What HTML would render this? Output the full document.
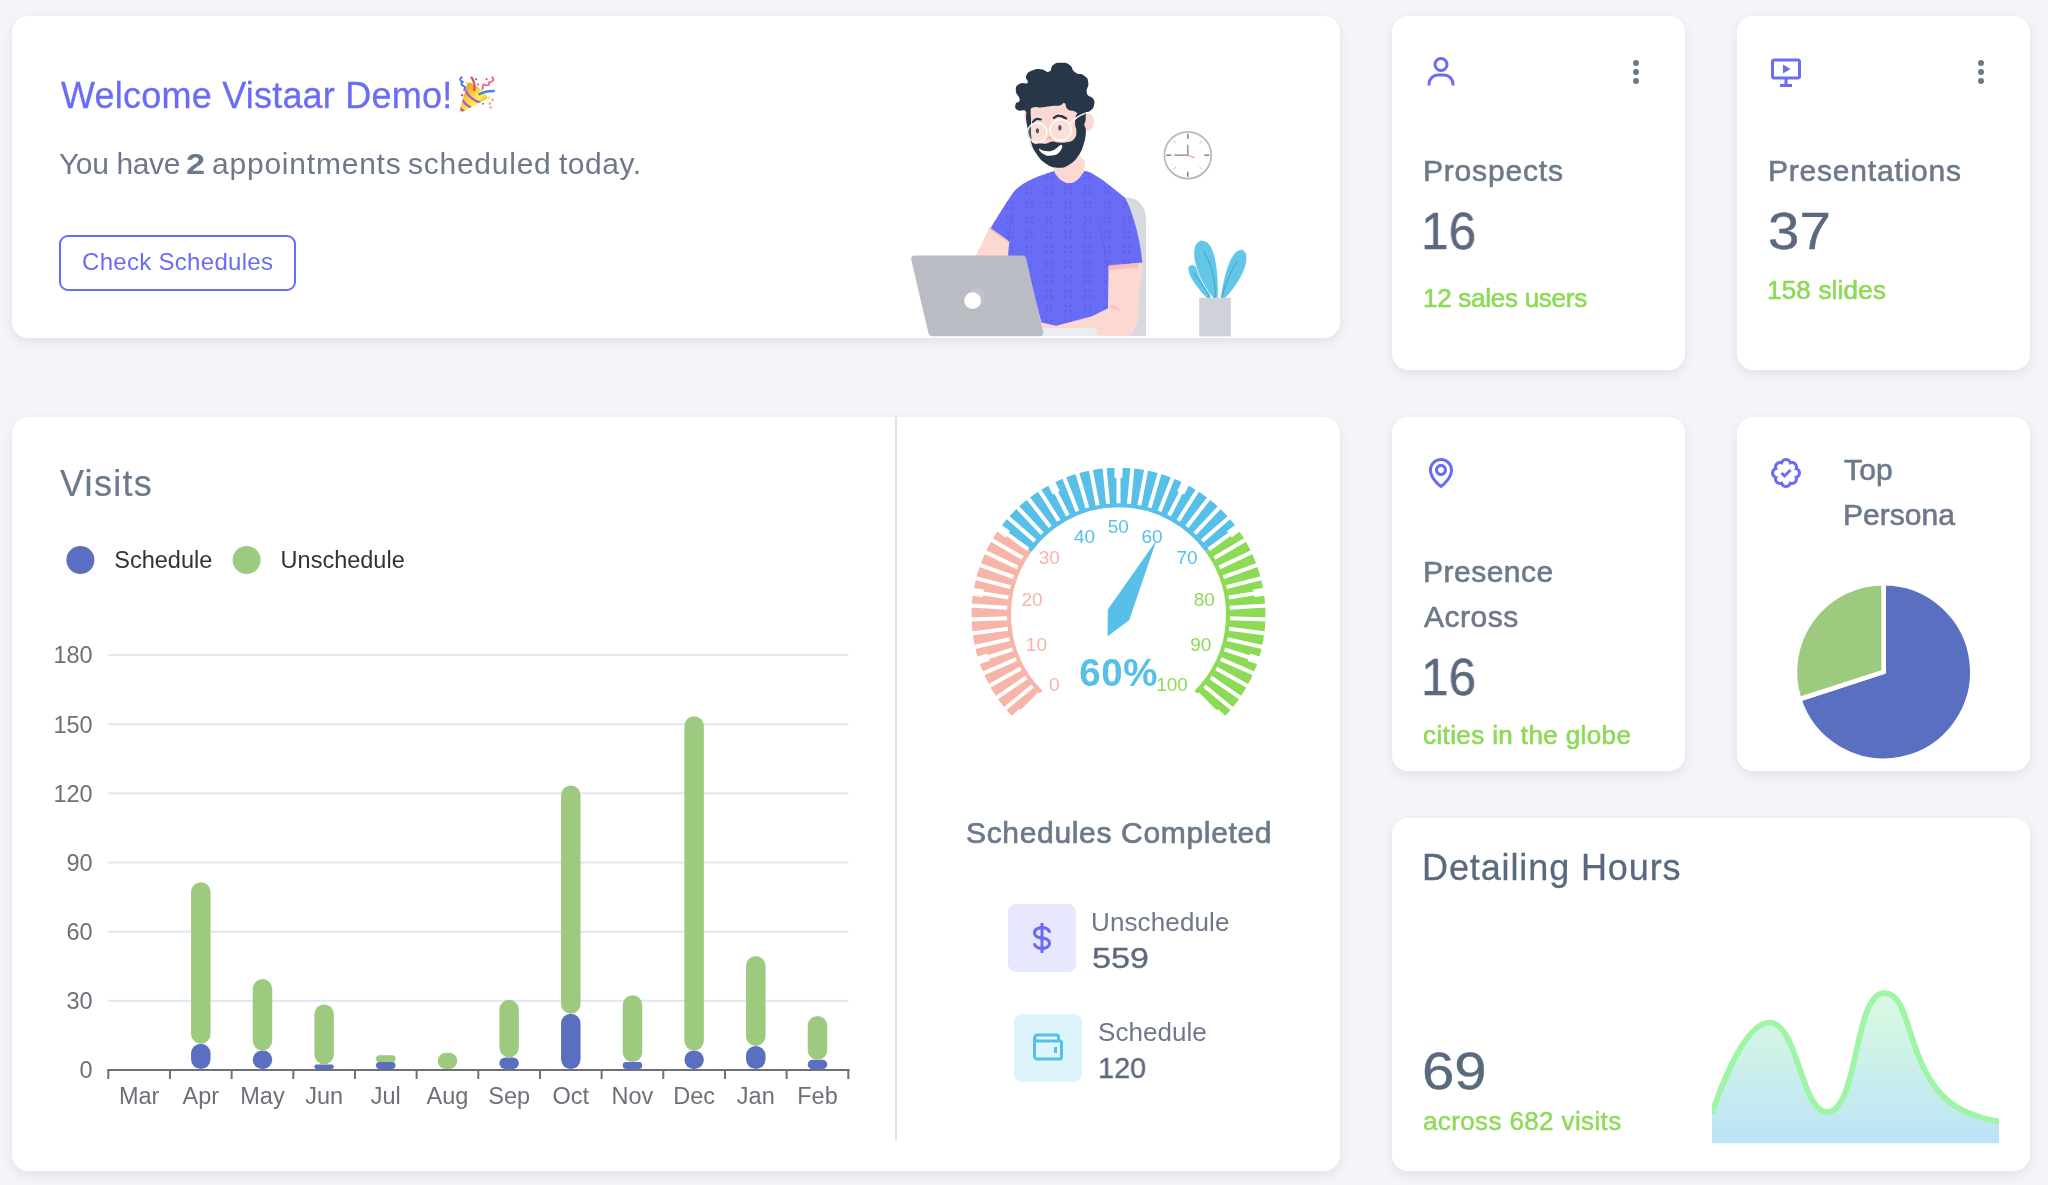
<!DOCTYPE html>
<html lang="en"><head><meta charset="utf-8"><title>Dashboard</title>
<style>
*{box-sizing:border-box}
html,body{margin:0;padding:0}
body{width:2048px;height:1185px;overflow:hidden;background:#f5f5f9;font-family:"Liberation Sans", sans-serif;position:relative}
.card{position:absolute;background:#fff;border-radius:16px;box-shadow:0 4px 12px 0 rgba(67,89,113,.12)}
.tx{will-change:transform;position:absolute;line-height:1;white-space:nowrap;margin:0;-webkit-font-smoothing:antialiased}
.tx b{font-weight:700}
.ab{will-change:transform;position:absolute;display:block;overflow:visible}
.btn{position:absolute;left:59px;top:235px;width:237px;height:55.5px;border:2px solid #6a6cf6;border-radius:9px;background:#fff}
.divider{position:absolute;left:895.25px;top:417px;width:2px;height:722.8px;background:#dee1e6}
.av{position:absolute;width:67.6px;height:67.6px;border-radius:8px}
</style></head>
<body>
<div class="card" style="left:12px;top:16px;width:1328px;height:322px"></div>
<div class="card" style="left:1392px;top:16px;width:293px;height:353.5px"></div>
<div class="card" style="left:1737px;top:16px;width:293px;height:353.5px"></div>
<div class="card" style="left:12px;top:417px;width:1328px;height:753.5px"></div>
<div class="card" style="left:1392px;top:417px;width:293px;height:353.5px"></div>
<div class="card" style="left:1737px;top:417px;width:293px;height:353.5px"></div>
<div class="card" style="left:1392px;top:818px;width:638px;height:352.5px"></div>
<div class="btn"></div>
<div class="divider"></div>
<div class="av" style="left:1008.3px;top:904.1px;background:#e7e7fd"></div>
<div class="av" style="left:1014.3px;top:1014.3px;background:#ddf4fb"></div>
<!--ILLUS-->
<svg class="ab" style="left:900px;top:40px;overflow:hidden" width="420" height="296.500" viewBox="900 40 420 296.500"><defs><pattern id="xp" width="19.5" height="14.8" patternUnits="userSpaceOnUse" x="1000" y="168">
<g stroke="#5658dc" stroke-width="1.3" stroke-linecap="round" opacity=".8"><path d="M6.300 3.900l2 2M13.200 3.900l-2 2M6.300 10.900l2-2M13.200 10.900l-2-2"/></g></pattern>
<clipPath id="shirtclip"><path d="M1053.8 171.2C1041.3 174.8 1024.9 180.6 1014.8 190.4Q1007.7 199.8 990.6 227.9L1009.3 241.2L1007.7 259.9L1024.9 259.9L1041.3 322.4L1056.2 325.8L1092.1 316.2L1108.0 308.3L1108.5 266.2L1142.3 262.4C1141.7 250.6 1136.1 218.6 1124.9 197.5L1103.0 180.3Q1089.3 170.6 1084.3 170.9Z"/></clipPath></defs>
<path d="M1112 336V197.5h14c12 0 20 9 20 22V336z" fill="#d6d9de"/>
<path d="M989.8 227.1L1010.1 240.4L1008.5 257.6L975.0 257.6Z" fill="#fbd8d1"/>
<path d="M990.3 228.1L1009.3 240.9L1009.0 243.1L989.3 229.6Z" fill="#f6b9ae" opacity=".8"/>
<path d="M1103.0 264.6C1109.2 258.4 1134.4 258.4 1140.5 263.1C1146.5 267.7 1139.6 283.9 1139.2 292.7C1138.9 301.6 1139.5 309.5 1138.4 316.2C1137.4 322.8 1134.9 329.3 1132.7 332.5C1130.4 335.8 1131.1 335.3 1124.9 335.8C1118.6 336.4 1109.1 336.2 1095.2 335.8C1081.3 335.4 1050.4 335.6 1041.3 333.3C1032.2 331.1 1038.1 324.2 1040.5 322.4C1043.0 320.6 1047.6 324.5 1056.2 322.4C1064.7 320.3 1084.3 313.5 1092.1 309.9C1099.9 306.3 1101.2 308.1 1103.0 300.5C1104.8 293.0 1096.8 270.9 1103.0 264.6Z" fill="#fbd8d1"/>
<path d="M1054.5 158.0L1080.2 155.3L1083.6 171.5L1085.6 185.0L1053.2 185.0Z" fill="#fbd8d1"/>
<path d="M1054.5 166.1L1080.2 158.0L1082.2 166.1L1062.6 169.5Z" fill="#f6b9ae" opacity=".55"/>
<path d="M1053.8 171.2C1041.3 174.8 1024.9 180.6 1014.8 190.4Q1007.7 199.8 990.6 227.9L1009.3 241.2L1007.7 259.9L1024.9 259.9L1041.3 322.4L1056.2 325.8L1092.1 316.2L1108.0 308.3L1108.5 266.2L1142.3 262.4C1141.7 250.6 1136.1 218.6 1124.9 197.5L1103.0 180.3Q1089.3 170.6 1084.3 170.9Z" fill="#696cf6"/>
<rect x="980" y="165" width="170" height="175" fill="url(#xp)" clip-path="url(#shirtclip)"/>
<path d="M1108.5 264.9L1138.1 263.1L1138.4 267.7L1108.9 270.1Z" fill="#f6b9ae" opacity=".8"/>
<path d="M1110.8 304.4L1120.2 309.1L1118.6 310.7L1110.8 307.6Z" fill="#f6b9ae" opacity=".7"/>
<path d="M1011.2 213.9L1008.5 241.2" stroke="#5658dc" stroke-width="1" fill="none" opacity=".7"/>
<path d="M1098.6 222.5L1107.7 266.2" stroke="#5658dc" stroke-width="1" fill="none" opacity=".6"/>
<path d="M1054.3 170.2C1055.2 174.5 1055.3 173.9 1057.9 176.9C1060.5 180.0 1060.7 180.0 1064.0 181.7C1067.2 183.3 1066.8 183.3 1070.1 183.0C1073.3 182.8 1073.1 182.9 1076.1 180.7C1079.2 178.6 1079.5 177.9 1081.5 174.9C1083.6 171.9 1084.3 174.0 1084.0 169.5C1083.6 165.0 1088.0 160.4 1080.2 158.0C1072.3 155.7 1061.4 157.5 1054.5 160.7C1047.6 164.0 1053.4 165.9 1054.3 170.2Z" fill="#fbd8d1"/>
<ellipse cx="1088.3" cy="122.2" rx="5.6" ry="9" fill="#fbd8d1"/>
<path d="M1084.9 117.5C1084.5 119.3 1083.3 118.9 1083.6 122.9C1083.8 127.0 1084.9 127.4 1085.6 129.7" stroke="#f6b9ae" stroke-width="1.6" fill="none"/>
<path d="M1028.2 108.1C1036.1 99.2 1038.5 100.9 1054.5 101.3C1070.5 101.7 1072.6 100.5 1081.5 109.4C1090.5 118.3 1085.9 118.1 1084.2 131.0C1082.6 144.0 1085.1 142.9 1076.1 152.6C1067.2 162.4 1066.7 163.4 1054.5 163.4C1042.4 163.4 1043.5 162.4 1035.6 152.6C1027.7 142.9 1030.4 144.4 1028.2 131.0C1026.0 117.7 1020.3 117.0 1028.2 108.1Z" fill="#fbd8d1"/>
<ellipse cx="1049.4" cy="138.0" rx="3" ry="1.8" fill="#f6b9ae"/>
<path d="M1026.4 113.5C1025.7 116.3 1026.2 119.6 1027.1 125.6C1028.0 131.6 1028.2 132.8 1030.2 139.1C1032.2 145.4 1031.8 146.8 1035.6 152.6C1039.4 158.5 1041.1 160.6 1046.4 164.1C1051.8 167.6 1053.2 167.7 1058.6 167.8C1063.9 167.9 1064.8 167.3 1069.4 164.5C1074.0 161.8 1074.9 160.7 1078.2 156.0C1081.5 151.3 1081.8 150.4 1083.6 144.5C1085.4 138.7 1085.8 136.1 1085.9 131.0C1086.0 126.0 1084.0 127.0 1084.0 122.9C1083.9 118.8 1087.1 115.7 1085.6 113.5C1084.1 111.3 1079.9 111.3 1077.5 113.5C1075.0 115.7 1075.3 118.8 1075.1 122.9C1074.8 127.0 1076.5 127.4 1076.4 131.0C1076.3 134.7 1076.5 135.9 1074.5 138.5C1072.6 141.0 1071.8 141.1 1068.0 142.1C1064.3 143.1 1062.2 142.8 1058.6 142.6C1055.0 142.5 1055.3 141.4 1052.5 141.6C1049.7 141.7 1049.4 143.0 1046.4 143.5C1043.4 143.9 1042.7 143.5 1039.7 143.5C1036.7 143.4 1035.6 144.8 1033.6 143.2C1031.6 141.5 1032.0 143.4 1031.3 136.4C1030.6 129.5 1031.6 118.8 1030.5 113.5C1029.4 108.1 1027.2 110.6 1026.4 113.5Z" fill="#273748"/>
<path d="M1039.0 149.0C1039.4 148.1 1041.3 150.7 1045.1 151.0C1048.9 151.3 1048.8 151.8 1053.2 150.2C1057.6 148.6 1059.9 144.4 1061.6 144.9C1063.2 145.5 1062.0 149.4 1059.3 152.2C1056.5 155.1 1055.3 155.1 1051.2 155.6C1047.0 156.1 1047.0 156.0 1043.7 154.3C1040.5 152.5 1038.6 149.9 1039.0 149.0Z" fill="#fff"/>
<path d="M1017.4 110.1C1014.5 108.0 1015.0 106.9 1015.6 104.0C1016.3 101.1 1019.7 103.5 1019.7 99.7C1019.7 95.9 1015.8 95.0 1015.8 90.5C1015.8 86.1 1016.4 85.9 1019.7 83.8C1023.0 81.6 1025.7 85.1 1027.5 82.8C1029.3 80.5 1024.7 79.2 1026.2 75.7C1027.7 72.1 1028.8 72.0 1032.9 70.3C1037.1 68.5 1036.5 68.9 1041.0 69.3C1045.6 69.7 1045.7 72.9 1049.1 71.6C1052.5 70.4 1049.8 67.4 1053.2 64.9C1056.6 62.4 1056.7 62.7 1061.3 62.7C1065.9 62.7 1065.8 62.2 1069.7 64.9C1073.5 67.5 1071.0 69.3 1075.1 72.3C1079.1 75.3 1080.5 72.8 1084.2 75.7C1087.9 78.5 1087.5 77.5 1088.3 82.4C1089.0 87.3 1085.6 88.7 1086.9 93.2C1088.3 97.8 1091.1 95.2 1093.0 98.6C1095.0 102.0 1094.8 101.9 1094.0 105.4C1093.1 108.8 1092.4 108.8 1089.9 111.0C1087.4 113.2 1086.1 110.6 1084.9 113.2C1083.7 115.8 1086.5 116.7 1085.6 120.2C1084.6 123.7 1083.8 127.5 1081.5 125.6C1079.3 123.7 1081.3 118.0 1077.5 113.5C1073.7 108.9 1071.6 112.3 1068.0 109.4C1064.4 106.6 1066.9 104.5 1064.7 103.3C1062.4 102.2 1063.5 104.6 1059.9 105.4C1056.3 106.1 1057.1 105.5 1051.8 106.0C1046.5 106.6 1046.5 106.9 1041.0 107.4C1035.5 107.9 1035.3 106.1 1032.2 107.8C1029.2 109.5 1031.7 110.0 1030.2 113.5C1028.7 116.9 1028.1 120.8 1026.8 120.2C1025.6 119.7 1028.5 114.3 1025.9 111.4C1023.3 108.6 1020.3 112.2 1017.4 110.1Z" fill="#273748"/>
<path d="M1032.9 122.2C1034.0 121.2 1033.7 120.0 1036.3 119.1C1038.9 118.2 1039.3 119.4 1040.8 119.5" stroke="#273748" stroke-width="2.2" stroke-linecap="round" fill="none"/>
<path d="M1053.9 117.9C1055.7 117.2 1055.2 115.5 1059.3 115.8C1063.3 116.0 1063.8 117.7 1066.0 118.6" stroke="#273748" stroke-width="2.4" stroke-linecap="round" fill="none"/>
<ellipse cx="1037.4" cy="130.8" rx="1.7" ry="2.6" fill="#273748"/>
<ellipse cx="1059.9" cy="127.7" rx="1.7" ry="2.8" fill="#273748"/>
<g fill="none" stroke="#fff" stroke-width="1.4" opacity=".95"><circle cx="1037.2" cy="132.6" r="9.8" fill="#fff" fill-opacity=".18"/><circle cx="1060.6" cy="129.9" r="10.6" fill="#fff" fill-opacity=".18"/><path d="M1070.7 123.6Q1076.1 116.2 1084.9 113.5"/></g>
<circle cx="1037.2" cy="132.6" r="9.8" fill="none" stroke="#e9e6ea" stroke-width="1.2" stroke-dasharray="14 48" stroke-dashoffset="-24"/>
<path d="M1040 328h53.5a3.5 3.5 0 0 1 3.5 3.5v1a3.5 3.5 0 0 1-3.5 3.5H1040z" fill="#ecedf0"/>
<path d="M914.3 255.6h108.6a3.2 3.2 0 0 1 3.1 2.5l17.2 74.3a3.2 3.2 0 0 1-3.1 3.9H931.7a3.2 3.2 0 0 1-3.1-2.5l-17.4-74.3a3.2 3.2 0 0 1 3.1-3.9z" fill="#b9bcc2"/>
<circle cx="976.3" cy="297" r="9" fill="#bfc3cd"/><circle cx="972.6" cy="300.6" r="8.4" fill="#fff"/>
<circle cx="1187.8" cy="155.2" r="23.4" fill="#fff" stroke="#b6bac5" stroke-width="1.8"/>
<line x1="1187.8" y1="138.7" x2="1187.8" y2="133.7" stroke="#7d8392" stroke-width="1.5"/>
<line x1="1204.3" y1="155.2" x2="1209.3" y2="155.2" stroke="#7d8392" stroke-width="1.5"/>
<line x1="1187.8" y1="171.7" x2="1187.8" y2="176.7" stroke="#7d8392" stroke-width="1.5"/>
<line x1="1171.3" y1="155.2" x2="1166.3" y2="155.2" stroke="#7d8392" stroke-width="1.5"/>
<line x1="1199.5" y1="143.5" x2="1201.9" y2="141.1" stroke="#b9bdc7" stroke-width="1"/>
<line x1="1199.5" y1="166.9" x2="1201.9" y2="169.3" stroke="#b9bdc7" stroke-width="1"/>
<line x1="1176.1" y1="166.9" x2="1173.7" y2="169.3" stroke="#b9bdc7" stroke-width="1"/>
<line x1="1176.1" y1="143.5" x2="1173.7" y2="141.1" stroke="#b9bdc7" stroke-width="1"/>
<path d="M1187.8 155.2V144.7M1187.8 155.2H1174.3" stroke="#7d8392" stroke-width="1.3" fill="none"/>
<path d="M1187.8 155.2l7 2.6" stroke="#f28b82" stroke-width="1.1"/>
<path d="M1210.9 298.8L1210.8 297.0L1210.5 295.2L1210.1 293.6L1209.7 291.9L1209.2 290.2L1208.7 288.6L1208.2 287.0L1207.6 285.3L1207.0 283.7L1206.4 282.2L1205.7 280.6L1205.0 279.1L1204.3 277.5L1203.5 276.0L1202.7 274.6L1201.8 273.1L1200.9 271.7L1199.8 270.4L1198.7 269.1L1197.6 267.8L1196.2 266.7L1194.8 265.6L1192.9 264.8L1189.6 265.1L1189.6 265.1L1188.0 268.1L1188.1 270.0L1188.4 271.8L1188.9 273.4L1189.5 275.0L1190.2 276.5L1190.9 277.9L1191.8 279.3L1192.6 280.7L1193.5 282.1L1194.4 283.4L1195.4 284.8L1196.3 286.1L1197.3 287.4L1198.4 288.7L1199.4 290.0L1200.4 291.3L1201.5 292.6L1202.6 293.8L1203.7 295.1L1204.9 296.3L1206.0 297.6L1207.3 298.8L1208.7 299.9Z" fill="#62c6e8" stroke="#fff" stroke-width=".8"/>
<path d="M1217.5 299.0L1218.1 296.1L1218.2 293.3L1218.2 290.7L1218.2 288.0L1218.1 285.4L1218.0 282.8L1217.9 280.2L1217.8 277.6L1217.6 275.1L1217.4 272.5L1217.1 270.0L1216.8 267.5L1216.5 265.0L1216.1 262.5L1215.6 260.1L1215.1 257.6L1214.5 255.2L1213.7 252.8L1212.9 250.5L1211.8 248.1L1210.5 245.8L1208.8 243.6L1206.6 241.5L1200.9 239.9L1200.9 239.9L1196.1 243.4L1194.7 246.3L1194.1 249.1L1193.8 251.8L1193.8 254.5L1193.9 257.1L1194.3 259.8L1194.8 262.3L1195.5 264.9L1196.2 267.4L1197.1 269.9L1198.0 272.4L1199.0 274.8L1200.1 277.3L1201.3 279.7L1202.5 282.0L1203.8 284.4L1205.1 286.7L1206.5 289.0L1208.0 291.3L1209.5 293.5L1211.2 295.7L1213.0 297.8L1215.2 299.8Z" fill="#62c6e8" stroke="#fff" stroke-width=".8"/>
<path d="M1222.8 299.9L1224.9 298.4L1226.6 296.7L1228.2 295.0L1229.8 293.2L1231.3 291.4L1232.7 289.5L1234.1 287.6L1235.5 285.7L1236.8 283.8L1238.0 281.8L1239.3 279.9L1240.4 277.8L1241.5 275.8L1242.5 273.7L1243.5 271.6L1244.4 269.5L1245.1 267.3L1245.8 265.1L1246.3 262.8L1246.7 260.5L1246.8 258.1L1246.7 255.6L1246.0 252.9L1242.7 249.4L1242.7 249.4L1238.0 250.2L1235.8 251.8L1234.2 253.6L1232.8 255.4L1231.6 257.3L1230.5 259.3L1229.6 261.3L1228.7 263.3L1227.9 265.4L1227.2 267.5L1226.5 269.6L1225.8 271.7L1225.2 273.9L1224.7 276.0L1224.1 278.2L1223.6 280.4L1223.1 282.6L1222.6 284.8L1222.1 287.1L1221.7 289.3L1221.3 291.6L1220.9 293.9L1220.6 296.3L1220.6 298.8Z" fill="#62c6e8" stroke="#fff" stroke-width=".8"/>
<g stroke="#479fc2" stroke-width="1" fill="none" stroke-linecap="round"><path d="M1193.5 273.0C1196.8 277.5 1198.0 278.4 1203.5 286.5C1208.9 294.6 1207.7 293.8 1209.8 297.4"/><path d="M1203.9 251.8C1206.7 258.7 1208.5 257.4 1212.4 272.6C1216.2 287.8 1214.4 289.1 1215.4 297.4"/><path d="M1236.8 261.7C1233.9 267.3 1233.3 266.7 1228.2 278.6C1223.2 290.4 1223.9 291.1 1221.7 297.4"/></g>
<rect x="1199.2" y="297.8" width="31.6" height="38.6" fill="#d0d2d9"/></svg>
<!--TEXT-->
<div class="tx" id="t1" style="left:60.60px;top:77.53px;font-size:36px;color:#6a6cf6;-webkit-text-stroke:0.3px #6a6cf6;letter-spacing:0.22px">Welcome Vistaar Demo!</div>
<div class="tx" id="t2a" style="left:58.70px;top:148.60px;font-size:30px;color:#6c798b;letter-spacing:-0.386px">You have</div>
<div class="tx" id="t2b" style="left:186.35px;top:148.60px;font-size:30px;color:#6c798b;transform:scaleX(1.1467);transform-origin:0 0"><b>2</b></div>
<div class="tx" id="t2c" style="left:212.40px;top:148.60px;font-size:30px;color:#6c798b;letter-spacing:0.782px">appointments</div>
<div class="tx" id="t2d" style="left:407.75px;top:148.60px;font-size:30px;color:#6c798b;letter-spacing:0.75px">scheduled</div>
<div class="tx" id="t2e" style="left:558.75px;top:148.60px;font-size:30px;color:#6c798b;letter-spacing:0.53px">today.</div>
<div class="tx" id="t3" style="left:81.80px;top:250.28px;font-size:24px;color:#6a6cf6;letter-spacing:0.3px">Check Schedules</div>
<div class="tx" id="t4" style="left:1422.50px;top:156.20px;font-size:30px;color:#6c798b;-webkit-text-stroke:0.6px #6c798b;letter-spacing:0.812px">Prospects</div>
<div class="tx" id="t5" style="left:1420.69px;top:204.58px;font-size:52px;color:#5a697d;-webkit-text-stroke:0.4px #5a697d;transform:scaleX(0.9519);transform-origin:0 0">16</div>
<div class="tx" id="t6" style="left:1422.50px;top:284.69px;font-size:26px;color:#8cda55;-webkit-text-stroke:0.6px #8cda55;letter-spacing:-0.269px">12 sales users</div>
<div class="tx" id="t7" style="left:1767.50px;top:156.20px;font-size:30px;color:#6c798b;-webkit-text-stroke:0.6px #6c798b;letter-spacing:0.792px">Presentations</div>
<div class="tx" id="t8" style="left:1768.23px;top:204.58px;font-size:52px;color:#5a697d;-webkit-text-stroke:0.4px #5a697d;transform:scaleX(1.0852);transform-origin:0 0">37</div>
<div class="tx" id="t9" style="left:1767.20px;top:276.69px;font-size:26px;color:#8cda55;-webkit-text-stroke:0.6px #8cda55;letter-spacing:0.2px">158 slides</div>
<div class="tx" id="t10" style="left:1422.50px;top:556.90px;font-size:30px;color:#6c798b;-webkit-text-stroke:0.6px #6c798b;letter-spacing:0.5px">Presence</div>
<div class="tx" id="t11" style="left:1424.00px;top:602.40px;font-size:30px;color:#6c798b;-webkit-text-stroke:0.6px #6c798b;letter-spacing:0.5px">Across</div>
<div class="tx" id="t12" style="left:1420.69px;top:650.68px;font-size:52px;color:#5a697d;-webkit-text-stroke:0.4px #5a697d;transform:scaleX(0.9519);transform-origin:0 0">16</div>
<div class="tx" id="t13" style="left:1423.00px;top:722.49px;font-size:26px;color:#8cda55;-webkit-text-stroke:0.6px #8cda55;letter-spacing:0.389px">cities in the globe</div>
<div class="tx" id="t14" style="left:1843.50px;top:454.71px;font-size:30px;color:#6c798b;-webkit-text-stroke:0.6px #6c798b;letter-spacing:0.15px">Top</div>
<div class="tx" id="t15" style="left:1842.70px;top:500.11px;font-size:30px;color:#6c798b;-webkit-text-stroke:0.6px #6c798b;letter-spacing:0.017px">Persona</div>
<div class="tx" id="t16" style="left:1422.00px;top:849.63px;font-size:36px;color:#5a697d;-webkit-text-stroke:0.3px #5a697d;letter-spacing:0.886px">Detailing Hours</div>
<div class="tx" id="t17" style="left:1422.27px;top:1045.28px;font-size:52px;color:#5a697d;-webkit-text-stroke:0.4px #5a697d;transform:scaleX(1.1167);transform-origin:0 0">69</div>
<div class="tx" id="t18" style="left:1423.00px;top:1108.39px;font-size:26px;color:#8cda55;-webkit-text-stroke:0.4px #8cda55;letter-spacing:0.375px">across 682 visits</div>
<div class="tx" id="t19" style="left:60.10px;top:466.23px;font-size:36px;color:#6c798b;-webkit-text-stroke:0.2px #6c798b;letter-spacing:1.26px">Visits</div>
<div class="tx" id="t20" style="left:966.40px;top:818.40px;font-size:30px;color:#6c798b;-webkit-text-stroke:0.7px #6c798b;letter-spacing:0.667px">Schedules Completed</div>
<div class="tx" id="t21" style="left:1091.30px;top:909.49px;font-size:26px;color:#6c798b;letter-spacing:0.122px">Unschedule</div>
<div class="tx" id="t22" style="left:1092.16px;top:942.90px;font-size:30px;color:#5a697d;-webkit-text-stroke:0.3px #5a697d;transform:scaleX(1.1375);transform-origin:0 0">559</div>
<div class="tx" id="t23" style="left:1098.00px;top:1019.49px;font-size:26px;color:#6c798b;letter-spacing:0.057px">Schedule</div>
<div class="tx" id="t24" style="left:1097.77px;top:1052.90px;font-size:30px;color:#5a697d;-webkit-text-stroke:0.3px #5a697d;transform:scaleX(0.9638);transform-origin:0 0">120</div>
<svg class="ab" style="left:457px;top:75px" width="40" height="38" viewBox="0 0 40 38">
<defs><linearGradient id="cone" x1="0.15" y1="0.2" x2="0.85" y2="0.9"><stop offset="0" stop-color="#e9a31c"/><stop offset=".35" stop-color="#f7cf3c"/><stop offset=".62" stop-color="#fff04e"/><stop offset="1" stop-color="#e59a18"/></linearGradient>
<clipPath id="cc"><path d="M2.7 35.400L10.400 8.200C11 7.300 13 7.400 16 9C22 12 28.500 18 30.300 22.300C30.600 23 30.300 23.400 29.500 23.900L5.200 37.100C3.500 37.900 2.300 36.800 2.700 35.400Z"/></clipPath></defs>
<path d="M2.7 35.400L10.400 8.200C11 7.300 13 7.400 16 9C22 12 28.500 18 30.300 22.300C30.600 23 30.300 23.400 29.500 23.900L5.200 37.100C3.500 37.900 2.300 36.800 2.700 35.400Z" fill="url(#cone)"/>
<g clip-path="url(#cc)" fill="none" stroke="#b25ad8" stroke-width="2.300"><path d="M8 14.500C11 21 17 26 24.500 28"/><path d="M4.500 23C6.500 27.500 9.500 30.500 14 32.500"/><path d="M1.500 31C3 33.500 4.500 35 7.500 36.200" stroke-width="2"/></g>
<path d="M17.300 15.200C17.800 11 17.500 6 14.500 2.600" fill="none" stroke="#ee4468" stroke-width="2.300" stroke-linecap="round"/>
<path d="M22.500 19.200C26.500 16.800 31 16 36.800 16" fill="none" stroke="#3f86ee" stroke-width="2.300" stroke-linecap="round"/>
<path d="M4.800 2.300C2.500 3.500 2.200 5.500 6 7C3.500 8 3.200 9.800 8 11.800C8.300 13 7.600 14 7.100 15" fill="none" stroke="#3e6fe0" stroke-width="1.800" stroke-linecap="round" stroke-linejoin="round"/>
<path d="M35.400 2.300C37.600 4.500 36 7 31.700 7.600C33.500 9.500 31.500 11.500 26.800 9.400C25.200 10.500 25.600 12.500 25.700 14.100" fill="none" stroke="#f0628c" stroke-width="1.900" stroke-linecap="round" stroke-linejoin="round"/>
<circle cx="19.200" cy="4.150" r="1.100" fill="#3f86ee"/><circle cx="21.050" cy="9.500" r="1.100" fill="#3f86ee"/><circle cx="9.450" cy="7.170" r="1" fill="#f3d43a"/><circle cx="5.040" cy="20.200" r="1.200" fill="#ee4f7a"/><circle cx="31.700" cy="22.700" r="1.100" fill="#f3d43a"/><circle cx="35.400" cy="25" r="1.200" fill="#f0a23c"/><circle cx="32.900" cy="28.500" r="1.200" fill="#f0a23c"/><circle cx="25.900" cy="28.750" r="1.100" fill="#3f86ee"/><circle cx="33.600" cy="32.500" r="1.300" fill="#f59ac8"/><circle cx="29.600" cy="4.150" r="1.100" fill="#ee4f7a"/>
</svg>
<!--ICONS-->
<svg class="ab" style="left:1423px;top:53.7px" width="36" height="36" viewBox="0 0 24 24" fill="#6a6cf6"><path d="M12 2a5 5 0 1 0 5 5 5 5 0 0 0-5-5zm0 8a3 3 0 1 1 3-3 3 3 0 0 1-3 3zm9 11v-1a7 7 0 0 0-7-7h-4a7 7 0 0 0-7 7v1h2v-1a5 5 0 0 1 5-5h4a5 5 0 0 1 5 5v1z"/></svg>
<svg class="ab" style="left:1618px;top:53.7px" width="36" height="36" viewBox="0 0 24 24" fill="#6c798b"><circle cx="12" cy="6" r="2"/><circle cx="12" cy="12" r="2"/><circle cx="12" cy="18" r="2"/></svg>
<svg class="ab" style="left:1768px;top:53.6px" width="36" height="36" viewBox="0 0 24 24" fill="#6a6cf6"><path d="M20 3H4c-1.103 0-2 .897-2 2v10c0 1.103.897 2 2 2h7v3H8v2h8v-2h-3v-3h7c1.103 0 2-.897 2-2V5c0-1.103-.897-2-2-2zM4 15V5h16v10H4z"/><path d="M10 13l5-3-5-3z"/></svg>
<svg class="ab" style="left:1963px;top:53.7px" width="36" height="36" viewBox="0 0 24 24" fill="#6c798b"><circle cx="12" cy="6" r="2"/><circle cx="12" cy="12" r="2"/><circle cx="12" cy="18" r="2"/></svg>
<svg class="ab" style="left:1423px;top:454.5px" width="36" height="36" viewBox="0 0 24 24" fill="#6a6cf6"><path d="M12 14c2.206 0 4-1.794 4-4s-1.794-4-4-4-4 1.794-4 4 1.794 4 4 4zm0-6c1.103 0 2 .897 2 2s-.897 2-2 2-2-.897-2-2 .897-2 2-2z"/><path d="M11.42 21.814a.998.998 0 0 0 1.16 0C12.884 21.599 20.029 16.44 20 10c0-4.411-3.589-8-8-8S4 5.589 4 9.995c-.029 6.445 7.116 11.604 7.42 11.819zM12 4c3.309 0 6 2.691 6 6.005.021 4.438-4.388 8.423-6 9.73-1.611-1.308-6.021-5.294-6-9.735 0-3.309 2.691-6 6-6z"/></svg>
<svg class="ab" style="left:1768px;top:454.5px" width="36" height="36" viewBox="0 0 24 24" fill="#6a6cf6"><path d="M4.035 15.479A3.976 3.976 0 0 0 4 16c0 2.378 2.138 4.284 4.521 3.964C9.214 21.198 10.534 22 12 22s2.786-.802 3.479-2.036C17.857 20.284 20 18.378 20 16c0-.173-.012-.347-.035-.521C21.198 14.786 22 13.465 22 12s-.802-2.786-2.035-3.479C19.988 8.347 20 8.173 20 8c0-2.378-2.143-4.288-4.521-3.964C14.786 2.802 13.466 2 12 2s-2.786.802-3.479 2.036C6.138 3.712 4 5.622 4 8c0 .173.012.347.035.521C2.802 9.214 2 10.535 2 12s.802 2.786 2.035 3.479zm1.442-5.403 1.102-.293-.434-1.053A1.932 1.932 0 0 1 6 8c0-1.103.897-2 2-2 .247 0 .499.05.73.145l1.054.434.293-1.102a1.990 1.990 0 0 1 3.846 0l.293 1.102 1.054-.434C15.501 6.050 15.753 6 16 6c1.103 0 2 .897 2 2 0 .247-.05.5-.145.73l-.434 1.053 1.102.293a1.993 1.993 0 0 1 0 3.848l-1.102.293.434 1.053c.095.23.145.483.145.73 0 1.103-.897 2-2 2-.247 0-.499-.05-.73-.145l-1.054-.434-.293 1.102a1.990 1.990 0 0 1-3.846 0l-.293-1.102-1.054.434A1.935 1.935 0 0 1 8 18c-1.103 0-2-.897-2-2 0-.247.05-.5.145-.73l.434-1.053-1.102-.293a1.993 1.993 0 0 1 0-3.848z"/><path d="m15.742 10.710-1.408-1.420-3.331 3.299-1.296-1.296-1.414 1.414 2.704 2.704z"/></svg>
<svg class="ab" style="left:1024px;top:919.6px" width="36" height="36" viewBox="0 0 24 24" fill="#6a6cf6"><path d="M15.999 8.5h2c0-2.837-2.755-4.131-5-4.429V2h-2v2.071c-2.245.298-5 1.592-5 4.429 0 2.706 2.666 4.113 5 4.430v4.970c-1.448-.251-3-1.024-3-2.400h-2c0 2.589 2.425 4.119 5 4.436V22h2v-2.070c2.245-.298 5-1.593 5-4.430s-2.755-4.131-5-4.429V6.100c1.330.239 3 .941 3 2.400zm-8 0c0-1.459 1.670-2.161 3-2.400v4.799c-1.371-.253-3-1.002-3-2.399zm8 7c0 1.459-1.670 2.161-3 2.400v-4.800c1.330.239 3 .941 3 2.400z"/></svg>
<svg class="ab" style="left:1030.3px;top:1029.4px" width="36" height="36" viewBox="0 0 24 24" fill="#58c0e8"><path d="M16 12h2v4h-2z"/><path d="M20 7V5c0-1.103-.897-2-2-2H5C3.346 3 2 4.346 2 6v12c0 2.201 1.794 3 3 3h15c1.103 0 2-.897 2-2V9c0-1.103-.897-2-2-2zM5 5h13v2H5a1.001 1.001 0 0 1 0-2zm15 14H5.012C4.550 18.988 4 18.805 4 18V8.815c.314.113.647.185 1 .185h15v10z"/></svg>
<!--CHARTS-->
<svg class="ab" style="left:12px;top:417px" width="884" height="753" viewBox="12 417 884 753" font-family='"Liberation Sans", sans-serif'>
<rect x="108.3" y="999.83" width="740.0" height="2" fill="#e1e6f0"/>
<rect x="108.3" y="930.67" width="740.0" height="2" fill="#e1e6f0"/>
<rect x="108.3" y="861.50" width="740.0" height="2" fill="#e1e6f0"/>
<rect x="108.3" y="792.33" width="740.0" height="2" fill="#e1e6f0"/>
<rect x="108.3" y="723.17" width="740.0" height="2" fill="#e1e6f0"/>
<rect x="108.3" y="654.00" width="740.0" height="2" fill="#e1e6f0"/>
<text x="92.6" y="1078.40" font-size="23.5" fill="#6e7078" text-anchor="end">0</text>
<text x="92.6" y="1009.23" font-size="23.5" fill="#6e7078" text-anchor="end">30</text>
<text x="92.6" y="940.07" font-size="23.5" fill="#6e7078" text-anchor="end">60</text>
<text x="92.6" y="870.90" font-size="23.5" fill="#6e7078" text-anchor="end">90</text>
<text x="92.6" y="801.73" font-size="23.5" fill="#6e7078" text-anchor="end">120</text>
<text x="92.6" y="732.57" font-size="23.5" fill="#6e7078" text-anchor="end">150</text>
<text x="92.6" y="663.40" font-size="23.5" fill="#6e7078" text-anchor="end">180</text>
<rect x="191.05" y="1043.64" width="19.5" height="25.36" rx="9.75" fill="#5a6fc0"/>
<rect x="191.05" y="882.25" width="19.5" height="161.39" rx="9.75" fill="#9eca7f"/>
<rect x="252.72" y="1050.56" width="19.5" height="18.44" rx="9.22" fill="#5a6fc0"/>
<rect x="252.72" y="979.08" width="19.5" height="71.47" rx="9.75" fill="#9eca7f"/>
<rect x="314.38" y="1064.39" width="19.5" height="4.61" rx="2.31" fill="#5a6fc0"/>
<rect x="314.38" y="1004.44" width="19.5" height="59.94" rx="9.75" fill="#9eca7f"/>
<rect x="376.05" y="1062.08" width="19.5" height="6.92" rx="3.46" fill="#5a6fc0"/>
<rect x="376.05" y="1055.17" width="19.5" height="6.92" rx="3.46" fill="#9eca7f"/>
<rect x="437.72" y="1052.86" width="19.5" height="16.14" rx="8.07" fill="#9eca7f"/>
<rect x="499.38" y="1057.47" width="19.5" height="11.53" rx="5.76" fill="#5a6fc0"/>
<rect x="499.38" y="999.83" width="19.5" height="57.64" rx="9.75" fill="#9eca7f"/>
<rect x="561.05" y="1013.67" width="19.5" height="55.33" rx="9.75" fill="#5a6fc0"/>
<rect x="561.05" y="785.42" width="19.5" height="228.25" rx="9.75" fill="#9eca7f"/>
<rect x="622.72" y="1062.08" width="19.5" height="6.92" rx="3.46" fill="#5a6fc0"/>
<rect x="622.72" y="995.22" width="19.5" height="66.86" rx="9.75" fill="#9eca7f"/>
<rect x="684.38" y="1050.56" width="19.5" height="18.44" rx="9.22" fill="#5a6fc0"/>
<rect x="684.38" y="716.25" width="19.5" height="334.31" rx="9.75" fill="#9eca7f"/>
<rect x="746.05" y="1045.94" width="19.5" height="23.06" rx="9.75" fill="#5a6fc0"/>
<rect x="746.05" y="956.03" width="19.5" height="89.92" rx="9.75" fill="#9eca7f"/>
<rect x="807.72" y="1059.78" width="19.5" height="9.22" rx="4.61" fill="#5a6fc0"/>
<rect x="807.72" y="1015.97" width="19.5" height="43.81" rx="9.75" fill="#9eca7f"/>
<rect x="107.3" y="1069.0" width="742.0" height="2" fill="#6e7078"/>
<rect x="107.30" y="1069.0" width="2" height="10" fill="#6e7078"/>
<rect x="168.97" y="1069.0" width="2" height="10" fill="#6e7078"/>
<rect x="230.63" y="1069.0" width="2" height="10" fill="#6e7078"/>
<rect x="292.30" y="1069.0" width="2" height="10" fill="#6e7078"/>
<rect x="353.97" y="1069.0" width="2" height="10" fill="#6e7078"/>
<rect x="415.63" y="1069.0" width="2" height="10" fill="#6e7078"/>
<rect x="477.30" y="1069.0" width="2" height="10" fill="#6e7078"/>
<rect x="538.97" y="1069.0" width="2" height="10" fill="#6e7078"/>
<rect x="600.63" y="1069.0" width="2" height="10" fill="#6e7078"/>
<rect x="662.30" y="1069.0" width="2" height="10" fill="#6e7078"/>
<rect x="723.97" y="1069.0" width="2" height="10" fill="#6e7078"/>
<rect x="785.63" y="1069.0" width="2" height="10" fill="#6e7078"/>
<rect x="847.30" y="1069.0" width="2" height="10" fill="#6e7078"/>
<text x="139.13" y="1104.4" font-size="23.5" fill="#6e7078" text-anchor="middle">Mar</text>
<text x="200.80" y="1104.4" font-size="23.5" fill="#6e7078" text-anchor="middle">Apr</text>
<text x="262.47" y="1104.4" font-size="23.5" fill="#6e7078" text-anchor="middle">May</text>
<text x="324.13" y="1104.4" font-size="23.5" fill="#6e7078" text-anchor="middle">Jun</text>
<text x="385.80" y="1104.4" font-size="23.5" fill="#6e7078" text-anchor="middle">Jul</text>
<text x="447.47" y="1104.4" font-size="23.5" fill="#6e7078" text-anchor="middle">Aug</text>
<text x="509.13" y="1104.4" font-size="23.5" fill="#6e7078" text-anchor="middle">Sep</text>
<text x="570.80" y="1104.4" font-size="23.5" fill="#6e7078" text-anchor="middle">Oct</text>
<text x="632.47" y="1104.4" font-size="23.5" fill="#6e7078" text-anchor="middle">Nov</text>
<text x="694.13" y="1104.4" font-size="23.5" fill="#6e7078" text-anchor="middle">Dec</text>
<text x="755.80" y="1104.4" font-size="23.5" fill="#6e7078" text-anchor="middle">Jan</text>
<text x="817.47" y="1104.4" font-size="23.5" fill="#6e7078" text-anchor="middle">Feb</text>
<circle cx="80.4" cy="560" r="14" fill="#5a6fc0"/><text x="114.3" y="568.2" font-size="23.5" fill="#333">Schedule</text>
<circle cx="246.6" cy="560" r="14" fill="#9eca7f"/><text x="280.6" y="568.2" font-size="23.5" fill="#333">Unschedule</text>
</svg>
<svg class="ab" style="left:897px;top:417px" width="443" height="380" viewBox="897 417 443 380" font-family='"Liberation Sans", sans-serif'>
<path d="M1028.52 704.83A127.25 127.25 0 0 1 1015.55 540.05" fill="none" stroke="#f6b5a8" stroke-width="39.5"/>
<path d="M1015.55 540.05A127.25 127.25 0 0 1 1221.45 540.05" fill="none" stroke="#58c0e8" stroke-width="39.5"/>
<path d="M1221.45 540.05A127.25 127.25 0 0 1 1208.48 704.83" fill="none" stroke="#8cda55" stroke-width="39.5"/>
<path d="M1013.49 719.86L1039.66 693.69M1004.08 709.51L1032.59 685.92M995.68 698.32L1026.28 677.52M988.37 686.39L1020.79 668.57M982.21 673.83L1016.17 659.13M977.27 660.74L1012.46 649.31M973.58 647.24L1009.69 639.17M971.17 633.46L1007.88 628.82M970.07 619.51L1007.06 618.35M970.29 605.53L1007.22 607.85M971.83 591.62L1008.37 597.41M974.67 577.92L1010.50 587.12M978.78 564.55L1013.59 577.08M984.13 551.62L1017.61 567.38M990.68 539.26L1022.53 558.09M998.36 527.56L1028.29 549.31M1007.11 516.65L1034.86 541.11M1016.84 506.60L1042.17 533.57M1027.48 497.51L1050.16 526.75M1038.93 489.47L1058.76 520.71M1051.08 482.54L1067.88 515.50M1063.83 476.78L1077.45 511.18M1077.07 472.25L1087.39 507.78M1090.67 468.98L1097.61 505.32M1104.52 467.01L1108.01 503.84M1118.50 466.35L1118.50 503.35M1132.48 467.01L1128.99 503.84M1146.33 468.98L1139.39 505.32M1159.93 472.25L1149.61 507.78M1173.17 476.78L1159.55 511.18M1185.92 482.54L1169.12 515.50M1198.07 489.47L1178.24 520.71M1209.52 497.51L1186.84 526.75M1220.16 506.60L1194.83 533.57M1229.89 516.65L1202.14 541.11M1238.64 527.56L1208.71 549.31M1246.32 539.26L1214.47 558.09M1252.87 551.62L1219.39 567.38M1258.22 564.55L1223.41 577.08M1262.33 577.92L1226.50 587.12M1265.17 591.62L1228.63 597.41M1266.71 605.53L1229.78 607.85M1266.93 619.51L1229.94 618.35M1265.83 633.46L1229.12 628.82M1263.42 647.24L1227.31 639.17M1259.73 660.74L1224.54 649.31M1254.79 673.83L1220.83 659.13M1248.63 686.39L1216.21 668.57M1241.32 698.32L1210.72 677.52M1232.92 709.51L1204.41 685.92M1223.51 719.86L1197.34 693.69" stroke="#fff" stroke-width="4" fill="none"/>
<path d="M1013.49 719.86L1021.63 711.72M977.27 660.74L988.21 657.19M971.83 591.62L983.19 593.42M998.36 527.56L1007.66 534.32M1051.08 482.54L1056.30 492.78M1118.50 466.35L1118.50 477.85M1185.92 482.54L1180.70 492.78M1238.64 527.56L1229.34 534.32M1265.17 591.62L1253.81 593.42M1259.73 660.74L1248.79 657.19M1223.51 719.86L1215.37 711.72" stroke="#fff" stroke-width="8" fill="none"/>
<text x="1054.3" y="690.5" font-size="19" fill="#f6b5a8" text-anchor="middle">0</text>
<text x="1036.4" y="651.4" font-size="19" fill="#f6b5a8" text-anchor="middle">10</text>
<text x="1032" y="606.4" font-size="19" fill="#f6b5a8" text-anchor="middle">20</text>
<text x="1049.3" y="564.0" font-size="19" fill="#f6b5a8" text-anchor="middle">30</text>
<text x="1084.6" y="543.2" font-size="19" fill="#58c0e8" text-anchor="middle">40</text>
<text x="1118.2" y="532.7" font-size="19" fill="#58c0e8" text-anchor="middle">50</text>
<text x="1152.1" y="543.2" font-size="19" fill="#58c0e8" text-anchor="middle">60</text>
<text x="1187" y="564.0" font-size="19" fill="#58c0e8" text-anchor="middle">70</text>
<text x="1204.3" y="606.4" font-size="19" fill="#8cda55" text-anchor="middle">80</text>
<text x="1200.7" y="651.4" font-size="19" fill="#8cda55" text-anchor="middle">90</text>
<text x="1172" y="690.5" font-size="19" fill="#8cda55" text-anchor="middle">100</text>
<path d="M1107.60 636.23L1129.19 620.30L1156.36 540.54L1107.81 609.40Z" fill="#58c0e8"/>
<text x="1118.6" y="686.4" font-size="38.5" font-weight="700" letter-spacing=".6" fill="#58c0e8" text-anchor="middle">60%</text>
</svg>
<svg class="ab" style="left:1780px;top:570px" width="210" height="200" viewBox="1780 570 210 200">
<path d="M1883.6 671.9L1883.6 583.1999999999999A88.7 88.7 0 1 1 1799.24 699.31Z" fill="#5a6fc0" stroke="#fff" stroke-width="4.6" stroke-linejoin="round"/>
<path d="M1883.6 671.9L1799.24 699.31A88.7 88.7 0 0 1 1883.6 583.1999999999999Z" fill="#9eca7f" stroke="#fff" stroke-width="4.6" stroke-linejoin="round"/>
</svg>
<svg class="ab" style="left:1712px;top:980px;overflow:hidden" width="287" height="164" viewBox="1712 980 287 164">
<defs><linearGradient id="ag" x1="0" y1="0" x2="0" y2="1"><stop offset="0" stop-color="#dafae0"/><stop offset="1" stop-color="#bce3f6"/></linearGradient><clipPath id="ac"><rect x="1712" y="980" width="287" height="163.600"/></clipPath></defs>
<g clip-path="url(#ac)"><path d="M1712.00 1113.50C1712.00 1113.50 1740.53 1022.60 1769.40 1022.60C1797.93 1022.60 1801.20 1112.00 1826.80 1112.00C1858.60 1112.00 1853.74 993.20 1884.20 993.20C1911.14 993.20 1904.37 1053.26 1941.60 1094.80C1961.77 1117.31 1999.00 1121.30 1999.00 1121.30L1999 1143.6L1712 1143.6Z" fill="url(#ag)"/>
<path d="M1712.00 1113.50C1712.00 1113.50 1740.53 1022.60 1769.40 1022.60C1797.93 1022.60 1801.20 1112.00 1826.80 1112.00C1858.60 1112.00 1853.74 993.20 1884.20 993.20C1911.14 993.20 1904.37 1053.26 1941.60 1094.80C1961.77 1117.31 1999.00 1121.30 1999.00 1121.30" fill="none" stroke="#9ff5a6" stroke-width="5.8"/></g>
</svg>
</body></html>
